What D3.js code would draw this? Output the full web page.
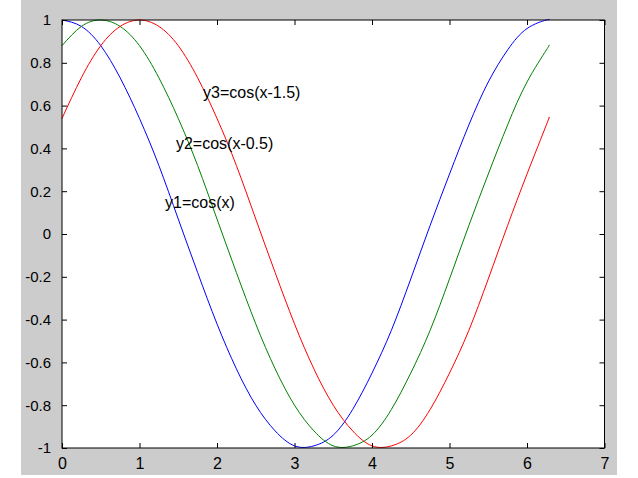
<!DOCTYPE html>
<html>
<head>
<meta charset="utf-8">
<script src="https://cdn.jsdelivr.net/npm/d3@7"></script>
<style>
  body { margin: 0; background: #ffffff; }
  svg text { font-family: "Liberation Sans", Arial, sans-serif; fill: #000; }
</style>
</head>
<body>
<script>
// sample points along x (0 to 2*pi)
var xs = [0, 0.25, 0.5, 0.75, 1, 1.25, 1.5, 1.75, 2, 2.25, 2.5, 2.75, 3, 3.25,
          3.5, 3.75, 4, 4.25, 4.5, 4.75, 5, 5.25, 5.5, 5.75, 6, 6.25, 6.28];

// blue curve
var y1 = [1.00, 0.97, 0.88, 0.73, 0.54, 0.32, 0.07, -0.18, -0.42, -0.63, -0.80, -0.92, -0.99, -0.99,
          -0.94, -0.82, -0.65, -0.45, -0.21, 0.04, 0.28, 0.51, 0.71, 0.86, 0.96, 1.00, 1.00];
// green curve
var y2 = [0.88, 0.97, 1.00, 0.97, 0.88, 0.73, 0.54, 0.32, 0.07, -0.18, -0.42, -0.63, -0.80, -0.92,
          -0.99, -0.99, -0.94, -0.82, -0.65, -0.45, -0.21, 0.04, 0.28, 0.51, 0.71, 0.86, 0.88];
// red curve
var y3 = [0.54, 0.73, 0.88, 0.97, 1.00, 0.97, 0.88, 0.73, 0.54, 0.32, 0.07, -0.18, -0.42, -0.63,
          -0.80, -0.92, -0.99, -0.99, -0.94, -0.82, -0.65, -0.45, -0.21, 0.04, 0.28, 0.51, 0.54];

var seriesColors = ["#0000ff", "#008000", "#ff0000"];

// tick values
var xTicks = [0, 1, 2, 3, 4, 5, 6, 7];
var yTicks = [-1, -0.8, -0.6, -0.4, -0.2, 0, 0.2, 0.4, 0.6, 0.8, 1];

// text annotations (in data units)
var labelText = ["y1=cos(x)", "y2=cos(x-0.5)", "y3=cos(x-1.5)"];
var labelX = [1.33, 1.47, 1.82];
var labelY = [0.15, 0.425, 0.66];

var width = 638, height = 478;
var padLeft = 62, padRight = 604.5, padTop = 20, padBottom = 448;

var svg = d3.select("body").append("svg")
  .attr("width", width)
  .attr("height", height);

// grey figure background
svg.append("rect")
  .attr("x", 21).attr("y", 0)
  .attr("width", 596).attr("height", 475)
  .attr("fill", "#cccccc");

// white axes area
svg.append("rect")
  .attr("x", padLeft).attr("y", padTop)
  .attr("width", padRight - padLeft).attr("height", padBottom - padTop)
  .attr("fill", "#ffffff");

var xScale = d3.scaleLinear().domain([0, 7]).range([padLeft, padRight]);
var yScale = d3.scaleLinear().domain([-1, 1]).range([padBottom, padTop]);

// the three curves
var line = d3.line()
  .x(function(d) { return xScale(d[0]); })
  .y(function(d) { return yScale(d[1]); })
  .curve(d3.curveNatural);

[y1, y2, y3].forEach(function(ys, i) {
  svg.append("path")
    .datum(xs.map(function(x, j) { return [x, ys[j]]; }))
    .attr("fill", "none")
    .attr("stroke", seriesColors[i])
    .attr("stroke-width", 1)
    .attr("d", line);
});

// box with inward ticks on all four sides
var tickLen = 5;
function styleAxis(g) {
  g.select(".domain").remove();
  g.selectAll(".tick line").attr("stroke", "#000").attr("stroke-width", 1);
}

// plain hyphen minus like the original
var plain = function(d) { return String(d); };

svg.append("g")
  .attr("transform", "translate(0," + padBottom + ")")
  .call(d3.axisBottom(xScale).tickValues(xTicks).tickSize(-tickLen).tickPadding(10).tickFormat(plain))
  .call(styleAxis)
  .selectAll("text").style("font-size", "16px").attr("dy", "0.71em");

svg.append("g")
  .attr("transform", "translate(0," + padTop + ")")
  .call(d3.axisTop(xScale).tickValues(xTicks).tickSize(-tickLen).tickFormat(""))
  .call(styleAxis);

svg.append("g")
  .attr("transform", "translate(" + padLeft + ",0)")
  .call(d3.axisLeft(yScale).tickValues(yTicks).tickSize(-tickLen).tickPadding(11).tickFormat(plain))
  .call(styleAxis)
  .selectAll("text").style("font-size", "15px");

svg.append("g")
  .attr("transform", "translate(" + padRight + ",0)")
  .call(d3.axisRight(yScale).tickValues(yTicks).tickSize(-tickLen).tickFormat(""))
  .call(styleAxis);

svg.append("rect")
  .attr("x", padLeft).attr("y", padTop)
  .attr("width", padRight - padLeft).attr("height", padBottom - padTop)
  .attr("fill", "none")
  .attr("stroke", "#000")
  .attr("stroke-width", 1);

// curve labels
labelText.forEach(function(t, i) {
  svg.append("text")
    .attr("x", xScale(labelX[i]))
    .attr("y", yScale(labelY[i]))
    .attr("dy", "0.35em")
    .style("font-size", "16px")
    .text(t);
});
</script>
</body>
</html>
